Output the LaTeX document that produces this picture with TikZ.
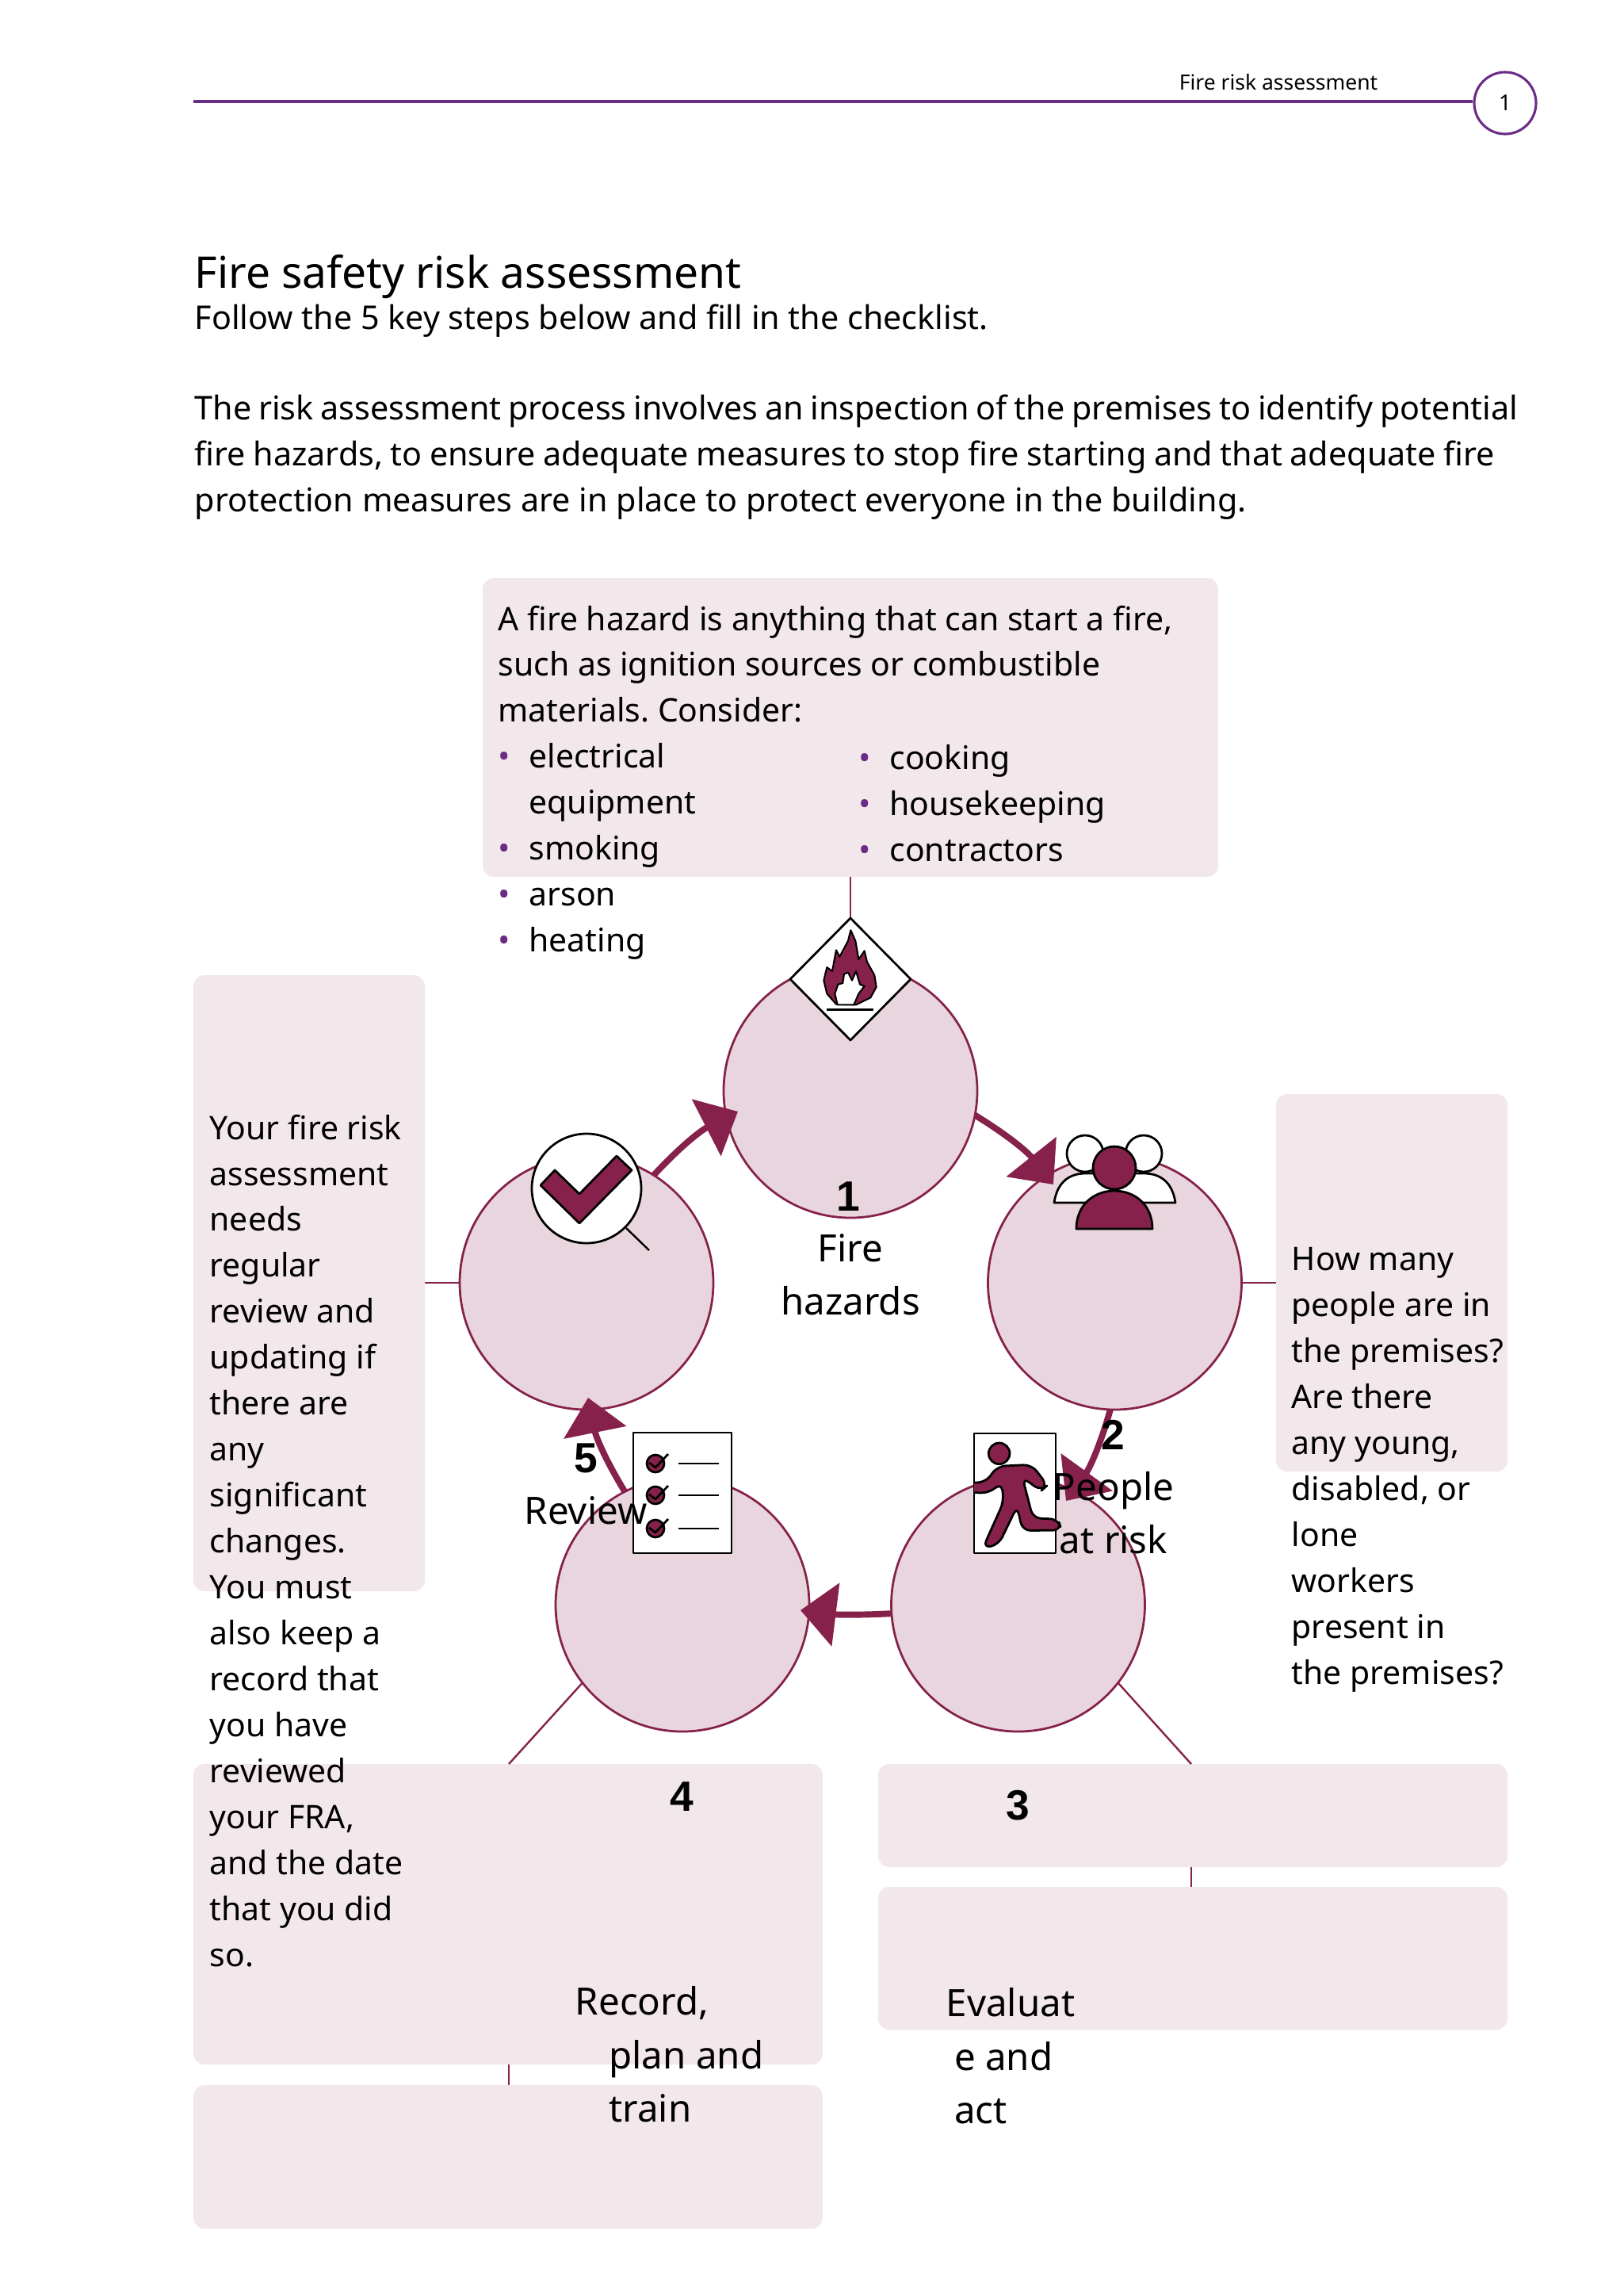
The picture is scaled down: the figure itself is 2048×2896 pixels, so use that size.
\documentclass[tikz,border=0pt]{standalone}
\usepackage{fontspec}
\setmainfont{Noto Sans}
\newfontfamily\numfont{Liberation Sans}
\usepackage{xcolor}
\usetikzlibrary{arrows.meta,calc,positioning,shapes.geometric}

\definecolor{maroon}{HTML}{85214A}
\definecolor{circlefill}{HTML}{E8D5DD}
\definecolor{boxfill}{HTML}{F2E8EC}
\definecolor{headpurple}{HTML}{6B2C85}
\newcommand{\unitpx}{0.29067pt}
\newcommand{\bitem}[1]{\makebox[11.3pt][l]{\textcolor{headpurple}{•}}#1}
\frenchspacing

\begin{document}
\begin{tikzpicture}[x=0.29067pt,y=-0.29067pt,>=Stealth,line join=round,
  stepcircle/.style={circle,draw=maroon,fill=circlefill,line width=0.8pt,
    minimum size=320*\unitpx,inner sep=0pt,outer sep=0pt},
  notebox/.style={rectangle,rounded corners=4pt,fill=boxfill,inner sep=0pt,outer sep=0pt},
  thinline/.style={draw=maroon,line width=0.7pt},
  looparrow/.style={draw=maroon,line width=2.3pt,-{Triangle[length=13pt,width=23pt,fill=maroon]}},
  bodytext/.style={inner sep=0pt,align=left,anchor=north west,
    font=\fontsize{11.9}{16.85}\selectfont},
  introtext/.style={bodytext,font=\fontsize{12}{16.85}\selectfont},
  steplabel/.style={inner sep=0pt,align=center,font=\fontsize{13.8}{19.6}\selectfont},
  numlabel/.style={inner sep=0pt,font=\numfont\bfseries\fontsize{15.5}{18}\selectfont},
  iconline/.style={draw=black,line width=0.8pt},
  iconfill/.style={draw=black,fill=maroon,line width=0.8pt}]
  \useasboundingbox (0,0) rectangle (2048,2896);

  %% ---------------------------------------------------------------
  %% page header
  %% ---------------------------------------------------------------
  \node[circle,draw=headpurple,line width=0.9pt,minimum size=78*\unitpx,inner sep=0pt,
    font=\fontsize{8}{10}\selectfont] (pagenum) at (1899,130) {1};
  \coordinate (rulestart) at (244,128);
  \draw[headpurple,line width=0.9pt] (rulestart) -- (pagenum.west |- rulestart);
  \node[inner sep=0pt,font=\fontsize{7.7}{10}\selectfont] (headtitle) at (1613,104) {Fire risk assessment};

  %% ---------------------------------------------------------------
  %% intro text
  %% ---------------------------------------------------------------
  \node[inner sep=0pt,anchor=north west,font=\fontsize{16}{20}\selectfont] (pagetitle) at (245,321)
    {Fire safety risk assessment};
  \node[introtext] (subtitle) at (245,383) {Follow the 5 key steps below and fill in the checklist.};
  \node[introtext] (intro) at (245,497)
    {\makebox[485.2pt][s]{The risk assessment process involves an inspection of the premises to identify potential}\\
     \makebox[476.7pt][s]{fire hazards, to ensure adequate measures to stop fire starting and that adequate fire}\\
     protection measures are in place to protect everyone in the building.};

  %% ---------------------------------------------------------------
  %% note boxes
  %% ---------------------------------------------------------------
  \node[notebox,minimum width=928*\unitpx,minimum height=377*\unitpx] (hazardbox) at (1073,917.5) {};
  \node[notebox,minimum width=292*\unitpx,minimum height=777*\unitpx] (reviewbox) at (390,1618.5) {};
  \node[notebox,minimum width=292*\unitpx,minimum height=476*\unitpx] (peoplebox) at (1756,1618) {};
  \node[notebox,minimum width=794*\unitpx,minimum height=379*\unitpx] (recordbox) at (641,2414.5) {};
  \node[notebox,minimum width=794*\unitpx,minimum height=181*\unitpx] (recordlow) at (641,2720.5) {};
  \node[notebox,minimum width=794*\unitpx,minimum height=130*\unitpx] (evalbox) at (1505,2290) {};
  \node[notebox,minimum width=794*\unitpx,minimum height=180*\unitpx] (evallow) at (1505,2470) {};

  %% ---------------------------------------------------------------
  %% the five circles
  %% ---------------------------------------------------------------
  \node[stepcircle] (c1) at (1073,1376) {};
  \node[stepcircle] (c2) at (1406.5,1618) {};
  \node[stepcircle] (c3) at (1284.5,2024) {};
  \node[stepcircle] (c4) at (861,2024) {};
  \node[stepcircle] (c5) at (740,1618) {};

  % thin connectors from circles to boxes
  \coordinate (evaltop) at (1503,2225);
  \coordinate (recordtop) at (642,2225);
  \draw[thinline] (hazardbox.south) -- (c1.north);
  \draw[thinline] (c2.east) -- (c2.east -| peoplebox.west);
  \draw[thinline] (c5.west) -- (c5.west -| reviewbox.east);
  \draw[thinline] (c3.-38) -- (evaltop);
  \draw[thinline] (c4.-142) -- (recordtop);
  \draw[thinline] (evaltop |- evalbox.south) -- (evaltop |- evallow.north);
  \draw[thinline] (recordtop |- recordbox.south) -- (recordtop |- recordlow.north);

  % loop arrows between circles
  \coordinate (tip12) at (1329,1494);
  \coordinate (tip23) at (1345,1893);
  \coordinate (tip34) at (1010,2031);
  \coordinate (tip45) at (742,1763);
  \coordinate (tip51) at (931,1402);
  \draw[looparrow] (c1.-11) to[bend left=10] (tip12);
  \draw[looparrow] (c2.-92) to[bend left=10] (tip23);
  \draw[looparrow] (c3.184) to[bend left=5] (tip34);
  \draw[looparrow] (c4.117) to[bend left=10] (tip45);
  \draw[looparrow] (c5.58) to[bend left=10] (tip51);

  %% ---------------------------------------------------------------
  %% icons
  %% ---------------------------------------------------------------
  % flame in a diamond
  \draw[iconline,fill=white] (1073,1158) -- (1149,1235) -- (1073,1312) -- (997,1235) -- cycle;
  \begin{scope}[shift={(1020,1170)},scale=0.3333]
    \draw[iconfill,line width=0.6pt] (160,10) -- (178,50) -- (190,120) -- (212,88) -- (222,130)
      -- (250,180) -- (257,225) -- (235,265) -- (180,292) -- (105,290) -- (70,250) -- (58,200)
      -- (70,150) -- (90,165) -- (105,85) -- (118,110) -- (150,50) -- cycle;
    \draw[iconline,fill=white,line width=0.6pt] (150,170) -- (165,200) -- (180,165) -- (195,215)
      -- (212,222) -- (190,250) -- (172,292) -- (110,292) -- (100,250) -- (112,215) -- (130,210)
      -- (135,175) -- cycle;
    \draw[iconline] (70,310) -- (245,310);
  \end{scope}
  % people group
  \draw[iconline,fill=white] (1369,1455) circle (23);
  \draw[iconline,fill=white] (1443,1455) circle (23);
  \draw[iconline,fill=white] (1330,1517) .. controls (1334,1490) and (1350,1480) .. (1370,1480)
    -- (1443,1480) .. controls (1463,1480) and (1479,1490) .. (1483,1517) -- cycle;
  \draw[iconfill] (1406,1473) circle (27);
  \draw[iconfill] (1358,1550) .. controls (1358,1520) and (1380,1502) .. (1406,1502)
    .. controls (1432,1502) and (1454,1520) .. (1454,1550) -- cycle;
  % exit runner
  \draw[iconline,fill=white] (1229,1808) rectangle (1332,1959);
  \begin{scope}[shift={(1160,1760)},scale=0.3333]
    \draw[iconfill] (302,220) circle (40);
    \draw[iconfill,rounded corners=3pt] (207,330) -- (250,330) -- (295,268) -- (425,262) -- (485,340)
      -- (460,362) -- (390,310) -- (430,465) -- (525,468) -- (538,510) -- (390,512) -- (370,420)
      -- (300,565) -- (240,578) -- (320,400) -- (310,330) -- (265,370) -- (207,368);
  \end{scope}
  % checklist
  \draw[iconline,fill=white] (799,1807) rectangle (923,1959);
  \foreach \ypos in {1846,1886,1928} {
    \draw[iconfill] (827,\ypos) circle (11);
    \draw[iconline] (819,\ypos-1) -- (827,\ypos+5) -- (843,\ypos-12);
    \draw[iconline] (856,\ypos) -- (907,\ypos);
  }
  % magnifier with tick
  \draw[iconline,line width=0.7pt] (790,1549) -- (819,1577);
  \draw[iconline,fill=white] (740,1499) circle (69);
  \draw[iconfill] (682,1495) -- (700,1476) -- (731,1506) -- (778,1458) -- (797,1476) -- (731,1543) -- cycle;

  %% ---------------------------------------------------------------
  %% numbers and step labels
  %% ---------------------------------------------------------------
  \node[numlabel] (num1) at (1070,1509) {1};
  \node[numlabel] (num2) at (1404,1810) {2};
  \node[numlabel] (num3) at (1284,2277) {3};
  \node[numlabel] (num4) at (860,2266) {4};
  \node[numlabel] (num5) at (739,1839) {5};
  \node[steplabel] (label1) at (1073,1608) {Fire\\hazards};
  \node[steplabel] (label2) at (1405,1908) {People\\at risk};
  \node[steplabel] (label5) at (739,1905) {Review};
  \node[steplabel,align=left,anchor=north west] (label4) at (725,2505) {Record,\\\hspace*{12.4pt}plan and\\\hspace*{12.4pt}train};
  \node[steplabel,align=left,anchor=north west] (label3) at (1193,2507) {Evaluat\\\hspace*{3pt}e and\\\hspace*{3pt}act};

  %% ---------------------------------------------------------------
  %% note texts
  %% ---------------------------------------------------------------
  \node[bodytext] (hazardtext) at (628,763)
    {A fire hazard is anything that can start a fire,\\
     such as ignition sources or combustible\\
     materials. Consider:};
  \node[bodytext] (hazardleft) at (628,937)
    {\bitem{electrical}\\\hspace*{11.3pt}equipment\\\bitem{smoking}\\\bitem{arson}\\\bitem{heating}};
  \node[bodytext] (hazardright) at (1083,939)
    {\bitem{cooking}\\\bitem{housekeeping}\\\bitem{contractors}};
  \node[bodytext] (reviewtext) at (264,1405)
    {Your fire risk\\assessment\\needs\\regular\\review and\\updating if\\there are\\any\\significant\\changes.\\
     You must\\also keep a\\record that\\you have\\reviewed\\your FRA,\\and the date\\that you did\\so.};
  \node[bodytext] (peopletext) at (1629,1573)
    {How many\\people are in\\the premises?\\Are there\\any young,\\disabled, or\\lone\\workers\\present in\\the premises?};
\end{tikzpicture}
\end{document}
